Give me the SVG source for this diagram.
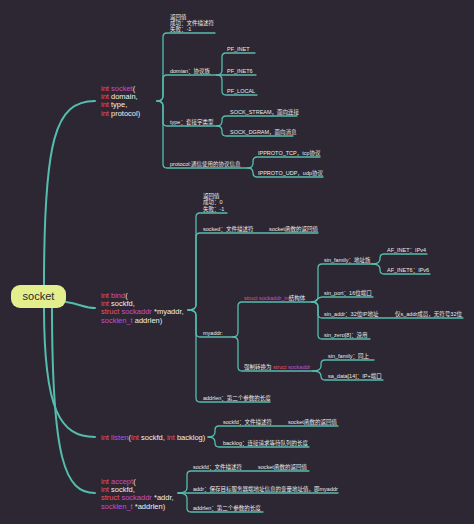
<svg xmlns="http://www.w3.org/2000/svg" width="474" height="524" viewBox="0 0 474 524">
<style>
.c{fill:none;stroke:#55bcae;stroke-width:1.3;stroke-linecap:round}
.m{stroke-width:2}
.t{font-family:"Liberation Sans","Noto Sans CJK SC",sans-serif;font-size:5.5px;fill:#ececec}
.f{font-family:"Liberation Sans","Noto Sans CJK SC",sans-serif;font-size:7.5px;fill:#f0f0f0}
.k{fill:#e8546a}
.n{fill:#c450cc}
</style>
<rect width="474" height="524" fill="#2c2732"/>
<g id="connectors">
<path class="c m" d="M44,285 C44,140 55,101 95,101"/>
<path class="c m" d="M66,302 C80,304 85,308 95,308"/>
<path class="c m" d="M44,307 C44,410 60,437 95,437"/>
<path class="c m" d="M52,307 C52,460 65,493 95,493"/>
<path class="c" d="M157,101 Q163,101 163,96 V37 Q163,33 167,33 H215"/>
<path class="c" d="M157,101 Q163,101 163,96 V79 Q163,75 167,75 H217"/>
<path class="c" d="M157,101 Q163,101 163,106 V122 Q163,126 167,126 H217"/>
<path class="c" d="M157,101 Q163,101 163,106 V164 Q163,168 167,168 H248"/>
<path class="c" d="M217,75 Q222,75 222,70 V57 Q222,53 226,53 H255"/>
<path class="c" d="M217,75 H256"/>
<path class="c" d="M217,75 Q222,75 222,80 V91 Q222,95 226,95 H257"/>
<path class="c" d="M217,126 Q222,126 222,121 V120 Q222,116 226,116 H297"/>
<path class="c" d="M217,126 Q222,126 222,131 V132 Q222,136 226,136 H293"/>
<path class="c" d="M248,168 Q253,168 253,163 V161 Q253,157 257,157 H320"/>
<path class="c" d="M248,168 Q253,168 253,173 V173 Q253,177 257,177 H323"/>
<path class="c" d="M188,310 Q196,310 196,305 V217 Q196,213 200,213 H227"/>
<path class="c" d="M188,310 Q196,310 196,305 V237 Q196,233 200,233 H318"/>
<path class="c" d="M188,310 Q196,310 196,315 V333 Q196,337 200,337 H233"/>
<path class="c" d="M188,310 Q196,310 196,315 V398 Q196,402 200,402 H270"/>
<path class="c" d="M233,337 Q238,337 238,332 V306 Q238,302 242,302 H312"/>
<path class="c" d="M233,337 Q238,337 238,342 V367 Q238,371 242,371 H313"/>
<path class="c" d="M312,302 Q318,302 318,297 V268 Q318,264 322,264 H372"/>
<path class="c" d="M312,302 C317,302 317,297 322,297 H373"/>
<path class="c" d="M312,302 Q318,302 318,307 V314 Q318,318 322,318 H463"/>
<path class="c" d="M312,302 Q318,302 318,307 V335 Q318,339 322,339 H370"/>
<path class="c" d="M372,264 Q380,264 380,259 V258 Q380,254 384,254 H427"/>
<path class="c" d="M372,264 Q380,264 380,269 V270 Q380,274 384,274 H430"/>
<path class="c" d="M313,371 Q321,371 321,366 V364 Q321,360 325,360 H374"/>
<path class="c" d="M313,371 Q321,371 321,376 V376 Q321,380 325,380 H383"/>
<path class="c" d="M208,437 Q215,437 215,432 V430 Q215,426 219,426 H338"/>
<path class="c" d="M208,437 Q215,437 215,442 V443 Q215,447 219,447 H309"/>
<path class="c" d="M178,493 Q187,493 187,488 V475 Q187,471 191,471 H309"/>
<path class="c" d="M178,493 H338"/>
<path class="c" d="M178,493 Q187,493 187,498 V508 Q187,512 191,512 H263"/>
</g>
<g id="root">
<rect x="11" y="285" width="55" height="23" rx="9" fill="#e3ef8c"/>
<text x="38.5" y="300.2" text-anchor="middle" font-family="Liberation Sans,sans-serif" font-size="11" fill="#2a2a2a">socket</text>
</g>
<g id="fn-socket">
<text class="f" x="101" y="90.7"><tspan class="k">int</tspan> <tspan class="n">socket</tspan>(</text>
<text class="f" x="101" y="99"><tspan class="k">int</tspan> domain,</text>
<text class="f" x="101" y="107.3"><tspan class="k">int</tspan> type,</text>
<text class="f" x="101" y="115.6"><tspan class="k">int</tspan> protocol)</text>
</g>
<g id="socket-ret">
<text class="t" x="170" y="18.5">返回值</text>
<text class="t" x="170" y="24.8">成功：文件描述符</text>
<text class="t" x="170" y="31">失败：-1</text>
</g>
<g id="socket-domain"><text class="t" x="170" y="72.5">domian：协议族</text></g>
<g id="pf-inet"><text class="t" x="227" y="50.5">PF_INET</text></g>
<g id="pf-inet6"><text class="t" x="227" y="72.5">PF_INET6</text></g>
<g id="pf-local"><text class="t" x="227" y="92.5">PF_LOCAL</text></g>
<g id="socket-type"><text class="t" x="170" y="123.5">type：套接字类型</text></g>
<g id="sock-stream"><text class="t" x="230" y="113.5">SOCK_STREAM，面向连接</text></g>
<g id="sock-dgram"><text class="t" x="230" y="133.5">SOCK_DGRAM，面向消息</text></g>
<g id="socket-protocol"><text class="t" x="170" y="165.5">protocol:通信使用的协议信息</text></g>
<g id="ipproto-tcp"><text class="t" x="258" y="154.5">IPPROTO_TCP，tcp协议</text></g>
<g id="ipproto-udp"><text class="t" x="258" y="174.5">IPPROTO_UDP，udp协议</text></g>
<g id="fn-bind">
<text class="f" x="101" y="297.7"><tspan class="k">int</tspan> <tspan class="n">bind</tspan>(</text>
<text class="f" x="101" y="306"><tspan class="k">int</tspan> sockfd,</text>
<text class="f" x="101" y="314.3"><tspan class="k">struct</tspan> <tspan class="n">sockaddr</tspan> *myaddr,</text>
<text class="f" x="101" y="322.6"><tspan class="n">socklen_t</tspan> addrlen)</text>
</g>
<g id="bind-ret">
<text class="t" x="203" y="197.5">返回值</text>
<text class="t" x="203" y="204">成功：0</text>
<text class="t" x="203" y="210.5">失败：-1</text>
</g>
<g id="bind-sockfd">
<text class="t" x="203" y="230.5">socked：文件描述符</text>
<text class="t" x="269" y="230.5">socket函数的返回值</text>
</g>
<g id="bind-myaddr"><text class="t" x="203" y="334.5">myaddr:</text></g>
<g id="sockaddr-in"><text class="t" x="244" y="299.5"><tspan class="k">struct</tspan> <tspan class="n">sockaddr_in</tspan>结构体</text></g>
<g id="sin-family"><text class="t" x="324" y="261.5">sin_family：地址族</text></g>
<g id="af-inet"><text class="t" x="387" y="251.5">AF_INET：IPv4</text></g>
<g id="af-inet6"><text class="t" x="387" y="271.5">AF_INET6：IPv6</text></g>
<g id="sin-port"><text class="t" x="324" y="294.5">sin_port：16位端口</text></g>
<g id="sin-addr">
<text class="t" x="324" y="315.5">sin_addr：32位IP地址</text>
<text class="t" x="395" y="315.5">仅s_addr成员，无符号32位</text>
</g>
<g id="sin-zero"><text class="t" x="324" y="336.5">sin_zero[8]：没用</text></g>
<g id="cast-sockaddr"><text class="t" x="244" y="368.5">强制转换为 <tspan class="k">struct</tspan> <tspan class="n">sockaddr</tspan></text></g>
<g id="sa-family"><text class="t" x="328" y="357.5">sin_family：同上</text></g>
<g id="sa-data"><text class="t" x="328" y="377.5">sa_data[14]：IP+端口</text></g>
<g id="bind-addrlen"><text class="t" x="203" y="399.5">addrlen：第二个参数的长度</text></g>
<g id="fn-listen">
<text class="f" x="101" y="439.7"><tspan class="k">int</tspan> <tspan class="n">listen</tspan>(<tspan class="k">int</tspan> sockfd, <tspan class="k">int</tspan> backlog)</text>
</g>
<g id="listen-sockfd">
<text class="t" x="223" y="423.5">sockfd：文件描述符</text>
<text class="t" x="288" y="423.5">socket函数的返回值</text>
</g>
<g id="listen-backlog"><text class="t" x="223" y="444.5">backlog：连接请求等待队列的长度</text></g>
<g id="fn-accept">
<text class="f" x="101" y="483.7"><tspan class="k">int</tspan> <tspan class="n">accept</tspan>(</text>
<text class="f" x="101" y="492"><tspan class="k">int</tspan> sockfd,</text>
<text class="f" x="101" y="500.3"><tspan class="k">struct</tspan> <tspan class="n">sockaddr</tspan> *addr,</text>
<text class="f" x="101" y="508.6"><tspan class="n">socklen_t</tspan> *addrlen)</text>
</g>
<g id="accept-sockfd">
<text class="t" x="193" y="468.5">sockfd：文件描述符</text>
<text class="t" x="258" y="468.5">socket函数的返回值</text>
</g>
<g id="accept-addr"><text class="t" x="193" y="490.5">addr：保存目标服务器端地址信息的变量地址值，即myaddr</text></g>
<g id="accept-addrlen"><text class="t" x="193" y="509.5">addrlen：第二个参数的长度</text></g>
</svg>
